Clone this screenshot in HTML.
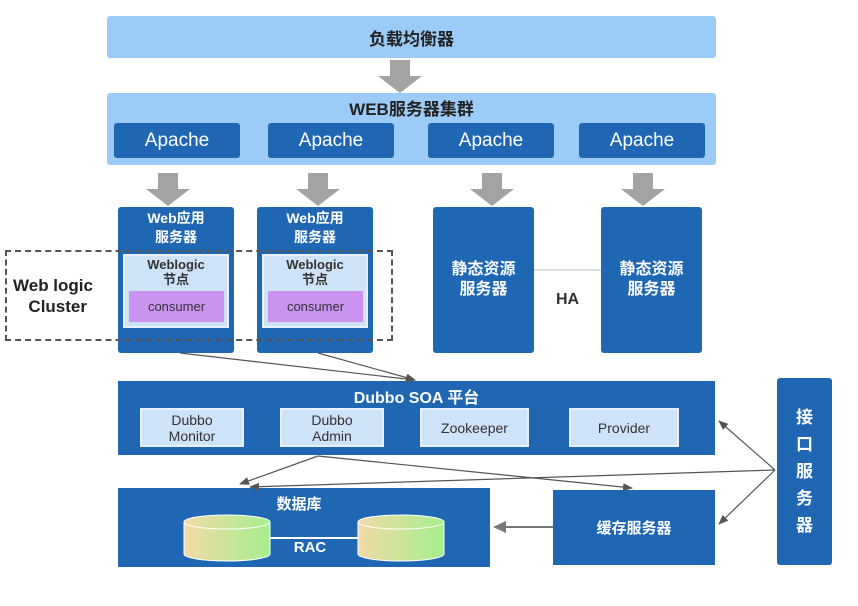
<!DOCTYPE html>
<html><head><meta charset="utf-8"><style>
body{margin:0;width:858px;height:606px;background:#fff;position:relative;overflow:hidden;font-family:"Liberation Sans","Noto Sans CJK SC",sans-serif}
.a{position:absolute;box-sizing:border-box;display:flex;align-items:center;justify-content:center;text-align:center}
.lb{background:#9dcbf7;color:#222;font-weight:bold}
.db{background:#1f67b3;color:#fff}
.r{border-radius:3px}
.lt{background:#cfe3f8;color:#333;border:2px solid #e8f1fb;font-size:14px;line-height:16px}
</style></head><body>
<div class="a lb r" style="left:107px;top:16px;width:609px;height:42px;font-size:17px">负载均衡器</div>
<div class="a lb r" style="left:107px;top:93px;width:609px;height:72px;align-items:flex-start;padding-top:2px;font-size:17px">WEB服务器集群</div>
<div class="a db r" style="left:114px;top:123px;width:126px;height:35px;font-size:19px">Apache</div>
<div class="a db r" style="left:268px;top:123px;width:126px;height:35px;font-size:19px">Apache</div>
<div class="a db r" style="left:428px;top:123px;width:126px;height:35px;font-size:19px">Apache</div>
<div class="a db r" style="left:579px;top:123px;width:126px;height:35px;font-size:19px">Apache</div>

<div class="a db r" style="left:118px;top:207px;width:116px;height:146px;align-items:flex-start;font-weight:bold;font-size:14px;line-height:19px;padding-top:2px">Web应用<br>服务器</div>
<div class="a db r" style="left:257px;top:207px;width:116px;height:146px;align-items:flex-start;font-weight:bold;font-size:14px;line-height:19px;padding-top:2px">Web应用<br>服务器</div>
<div class="a" style="left:123px;top:254px;width:106px;height:74px;background:#cfe3f8;border:2px solid #e8f1fb;align-items:flex-start;color:#333;font-weight:bold;font-size:13px;line-height:15px;padding-top:1px">Weblogic<br>节点</div>
<div class="a" style="left:262px;top:254px;width:106px;height:74px;background:#cfe3f8;border:2px solid #e8f1fb;align-items:flex-start;color:#333;font-weight:bold;font-size:13px;line-height:15px;padding-top:1px">Weblogic<br>节点</div>
<div class="a" style="left:129px;top:291px;width:95px;height:31px;background:#c993ef;color:#333;font-size:13px">consumer</div>
<div class="a" style="left:268px;top:291px;width:95px;height:31px;background:#c993ef;color:#333;font-size:13px">consumer</div>
<div class="a" style="left:5px;top:250px;width:388px;height:91px;border:2px dashed #555;justify-content:flex-start;padding-left:6px;font-weight:bold;font-size:17px;line-height:21px;color:#222">Web logic<br>&nbsp;&nbsp;Cluster</div>

<div class="a db r" style="left:433px;top:207px;width:101px;height:146px;font-weight:bold;font-size:16px;line-height:20px">静态资源<br>服务器</div>
<div class="a db r" style="left:601px;top:207px;width:101px;height:146px;font-weight:bold;font-size:16px;line-height:20px">静态资源<br>服务器</div>
<div class="a" style="left:540px;top:290px;width:55px;height:20px;font-weight:bold;font-size:16px;color:#333">HA</div>

<div class="a db" style="left:118px;top:381px;width:597px;height:74px;align-items:flex-start;font-weight:bold;font-size:16px;padding-top:3px">Dubbo SOA 平台</div>
<div class="a lt" style="left:140px;top:408px;width:104px;height:39px">Dubbo<br>Monitor</div>
<div class="a lt" style="left:280px;top:408px;width:104px;height:39px">Dubbo<br>Admin</div>
<div class="a lt" style="left:420px;top:408px;width:109px;height:39px">Zookeeper</div>
<div class="a lt" style="left:569px;top:408px;width:110px;height:39px">Provider</div>

<div class="a db r" style="left:777px;top:378px;width:55px;height:187px;font-weight:bold;font-size:17px;line-height:27px">接<br>口<br>服<br>务<br>器</div>
<div class="a db" style="left:118px;top:488px;width:372px;height:79px;align-items:flex-start;font-weight:bold;font-size:15px;padding-top:5px;padding-right:10px">数据库</div>
<div class="a db" style="left:553px;top:490px;width:162px;height:75px;font-weight:bold;font-size:15px">缓存服务器</div>
<div class="a" style="left:280px;top:537px;width:60px;height:20px;color:#fff;font-weight:bold;font-size:15px">RAC</div>

<svg width="858" height="606" style="position:absolute;left:0;top:0">
<defs>
<linearGradient id="g" x1="0" x2="1"><stop offset="0" stop-color="#f2d9a8"/><stop offset="1" stop-color="#a5ef8c"/></linearGradient>
<marker id="m" markerWidth="10" markerHeight="8" refX="9" refY="4" orient="auto" markerUnits="userSpaceOnUse"><path d="M0,0L10,4L0,8z" fill="#555"/></marker>
</defs>
<g fill="#a3a3a3">
<path d="M390,60h20v16h12l-22,17l-22,-17h12z"/>
<path d="M158,173h20v16h12l-22,17l-22,-17h12z"/>
<path d="M308,173h20v16h12l-22,17l-22,-17h12z"/>
<path d="M482,173h20v16h12l-22,17l-22,-17h12z"/>
<path d="M633,173h20v16h12l-22,17l-22,-17h12z"/>
</g>
<line x1="534" y1="270" x2="601" y2="270" stroke="#ddd" stroke-width="2"/>
<g stroke="#555" stroke-width="1.2" fill="none" marker-end="url(#m)">
<line x1="180" y1="353" x2="415" y2="380"/>
<line x1="318" y1="353" x2="415" y2="380"/>
<line x1="318" y1="456" x2="240" y2="484"/>
<line x1="318" y1="456" x2="632" y2="488"/>
<line x1="775" y1="470" x2="250" y2="487"/>
<line x1="775" y1="470" x2="719" y2="421"/>
<line x1="775" y1="470" x2="719" y2="524"/>
</g>
<path d="M553,527H505" stroke="#777" stroke-width="2"/><path d="M493,527l13,-6v12z" fill="#777"/>
<g stroke="#fff" stroke-width="1">
<path d="M184,522v32a43,7 0 0 0 86,0v-32" fill="url(#g)"/><ellipse cx="227" cy="522" rx="43" ry="7" fill="url(#g)"/>
<path d="M358,522v32a43,7 0 0 0 86,0v-32" fill="url(#g)"/><ellipse cx="401" cy="522" rx="43" ry="7" fill="url(#g)"/>
</g>
<line x1="270" y1="538" x2="358" y2="538" stroke="#fff" stroke-width="2"/>
</svg>
</body></html>
